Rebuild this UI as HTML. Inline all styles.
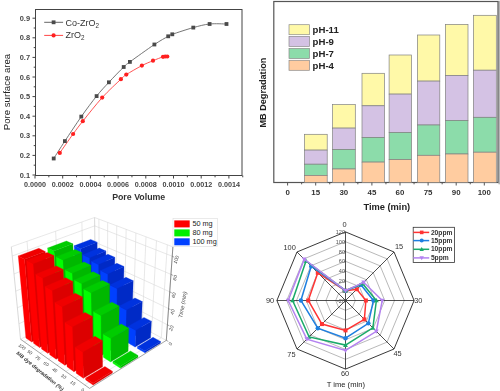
<!DOCTYPE html>
<html><head><meta charset="utf-8"><style>
html,body{margin:0;padding:0;background:#fff;width:500px;height:391px;overflow:hidden}
svg{display:block;filter:blur(0.3px);font-family:"Liberation Sans", sans-serif}
</style></head><body>
<svg width="500" height="391" viewBox="0 0 500 391" font-family='"Liberation Sans", sans-serif'>
<rect x="35.5" y="9.5" width="206.5" height="166" fill="none" stroke="#444" stroke-width="1"/>
<line x1="32.5" y1="175" x2="35.5" y2="175" stroke="#444" stroke-width="1"/>
<text x="30" y="177.6" font-size="7.4" font-weight="bold" fill="#444" text-anchor="end">0.1</text>
<line x1="33.7" y1="165.2" x2="35.5" y2="165.2" stroke="#444" stroke-width="1"/>
<line x1="32.5" y1="155.4" x2="35.5" y2="155.4" stroke="#444" stroke-width="1"/>
<text x="30" y="158" font-size="7.4" font-weight="bold" fill="#444" text-anchor="end">0.2</text>
<line x1="33.7" y1="145.6" x2="35.5" y2="145.6" stroke="#444" stroke-width="1"/>
<line x1="32.5" y1="135.8" x2="35.5" y2="135.8" stroke="#444" stroke-width="1"/>
<text x="30" y="138.4" font-size="7.4" font-weight="bold" fill="#444" text-anchor="end">0.3</text>
<line x1="33.7" y1="126" x2="35.5" y2="126" stroke="#444" stroke-width="1"/>
<line x1="32.5" y1="116.2" x2="35.5" y2="116.2" stroke="#444" stroke-width="1"/>
<text x="30" y="118.8" font-size="7.4" font-weight="bold" fill="#444" text-anchor="end">0.4</text>
<line x1="33.7" y1="106.4" x2="35.5" y2="106.4" stroke="#444" stroke-width="1"/>
<line x1="32.5" y1="96.6" x2="35.5" y2="96.6" stroke="#444" stroke-width="1"/>
<text x="30" y="99.2" font-size="7.4" font-weight="bold" fill="#444" text-anchor="end">0.5</text>
<line x1="33.7" y1="86.8" x2="35.5" y2="86.8" stroke="#444" stroke-width="1"/>
<line x1="32.5" y1="77" x2="35.5" y2="77" stroke="#444" stroke-width="1"/>
<text x="30" y="79.6" font-size="7.4" font-weight="bold" fill="#444" text-anchor="end">0.6</text>
<line x1="33.7" y1="67.2" x2="35.5" y2="67.2" stroke="#444" stroke-width="1"/>
<line x1="32.5" y1="57.4" x2="35.5" y2="57.4" stroke="#444" stroke-width="1"/>
<text x="30" y="60" font-size="7.4" font-weight="bold" fill="#444" text-anchor="end">0.7</text>
<line x1="33.7" y1="47.6" x2="35.5" y2="47.6" stroke="#444" stroke-width="1"/>
<line x1="32.5" y1="37.8" x2="35.5" y2="37.8" stroke="#444" stroke-width="1"/>
<text x="30" y="40.4" font-size="7.4" font-weight="bold" fill="#444" text-anchor="end">0.8</text>
<line x1="33.7" y1="28" x2="35.5" y2="28" stroke="#444" stroke-width="1"/>
<line x1="32.5" y1="18.2" x2="35.5" y2="18.2" stroke="#444" stroke-width="1"/>
<text x="30" y="20.8" font-size="7.4" font-weight="bold" fill="#444" text-anchor="end">0.9</text>
<line x1="35" y1="175.5" x2="35" y2="178.5" stroke="#444" stroke-width="1"/>
<text x="35" y="186.5" font-size="7.2" font-weight="bold" fill="#444" text-anchor="middle">0.0000</text>
<line x1="48.85" y1="175.5" x2="48.85" y2="177.3" stroke="#444" stroke-width="1"/>
<line x1="62.7" y1="175.5" x2="62.7" y2="178.5" stroke="#444" stroke-width="1"/>
<text x="62.7" y="186.5" font-size="7.2" font-weight="bold" fill="#444" text-anchor="middle">0.0002</text>
<line x1="76.55" y1="175.5" x2="76.55" y2="177.3" stroke="#444" stroke-width="1"/>
<line x1="90.4" y1="175.5" x2="90.4" y2="178.5" stroke="#444" stroke-width="1"/>
<text x="90.4" y="186.5" font-size="7.2" font-weight="bold" fill="#444" text-anchor="middle">0.0004</text>
<line x1="104.25" y1="175.5" x2="104.25" y2="177.3" stroke="#444" stroke-width="1"/>
<line x1="118.1" y1="175.5" x2="118.1" y2="178.5" stroke="#444" stroke-width="1"/>
<text x="118.1" y="186.5" font-size="7.2" font-weight="bold" fill="#444" text-anchor="middle">0.0006</text>
<line x1="131.95" y1="175.5" x2="131.95" y2="177.3" stroke="#444" stroke-width="1"/>
<line x1="145.8" y1="175.5" x2="145.8" y2="178.5" stroke="#444" stroke-width="1"/>
<text x="145.8" y="186.5" font-size="7.2" font-weight="bold" fill="#444" text-anchor="middle">0.0008</text>
<line x1="159.65" y1="175.5" x2="159.65" y2="177.3" stroke="#444" stroke-width="1"/>
<line x1="173.5" y1="175.5" x2="173.5" y2="178.5" stroke="#444" stroke-width="1"/>
<text x="173.5" y="186.5" font-size="7.2" font-weight="bold" fill="#444" text-anchor="middle">0.0010</text>
<line x1="187.35" y1="175.5" x2="187.35" y2="177.3" stroke="#444" stroke-width="1"/>
<line x1="201.2" y1="175.5" x2="201.2" y2="178.5" stroke="#444" stroke-width="1"/>
<text x="201.2" y="186.5" font-size="7.2" font-weight="bold" fill="#444" text-anchor="middle">0.0012</text>
<line x1="215.05" y1="175.5" x2="215.05" y2="177.3" stroke="#444" stroke-width="1"/>
<line x1="228.9" y1="175.5" x2="228.9" y2="178.5" stroke="#444" stroke-width="1"/>
<text x="228.9" y="186.5" font-size="7.2" font-weight="bold" fill="#444" text-anchor="middle">0.0014</text>
<line x1="242.75" y1="175.5" x2="242.75" y2="177.3" stroke="#444" stroke-width="1"/>
<text x="138.7" y="200.4" font-size="8.8" font-weight="bold" fill="#333" text-anchor="middle">Pore Volume</text>
<text transform="translate(9.6,92) rotate(-90)" x="0" y="0" font-size="9.6" fill="#222" text-anchor="middle">Pore surface area</text>
<path d="M53.7,158.5 C55.57,155.6 60.3,148.08 64.9,141.1 C69.5,134.12 76.02,124.1 81.3,116.6 C86.58,109.1 92,101.82 96.6,96.1 C101.2,90.38 104.38,87.15 108.9,82.3 C113.42,77.45 120.2,70.4 123.7,67 C127.2,63.6 124.78,65.65 129.9,61.9 C135.02,58.15 148.02,48.77 154.4,44.5 C160.78,40.23 165.22,38 168.2,36.3 C171.18,34.6 168.12,35.75 172.3,34.3 C176.48,32.85 187.08,29.32 193.3,27.6 C199.52,25.88 204.07,24.6 209.6,24 C215.13,23.4 223.68,24 226.5,24" fill="none" stroke="#666" stroke-width="0.9"/>
<path d="M59.8,152.9 C62.02,149.75 69.27,139.28 73.1,134 C76.93,128.72 77.95,127.27 82.8,121.2 C87.65,115.13 95.85,104.6 102.2,97.6 C108.55,90.6 116.88,83.03 120.9,79.2 C124.92,75.37 122.8,76.87 126.3,74.6 C129.8,72.33 137.45,67.92 141.9,65.6 C146.35,63.28 149.48,62.17 153,60.7 C156.52,59.23 160.97,57.5 163,56.8 C165.03,56.1 164.48,56.55 165.2,56.5 C165.92,56.45 166.95,56.5 167.3,56.5" fill="none" stroke="#ff4040" stroke-width="0.9"/>
<rect x="51.8" y="156.6" width="3.8" height="3.8" fill="#4a4a4a"/>
<rect x="63" y="139.2" width="3.8" height="3.8" fill="#4a4a4a"/>
<rect x="79.4" y="114.7" width="3.8" height="3.8" fill="#4a4a4a"/>
<rect x="94.7" y="94.2" width="3.8" height="3.8" fill="#4a4a4a"/>
<rect x="107" y="80.4" width="3.8" height="3.8" fill="#4a4a4a"/>
<rect x="121.8" y="65.1" width="3.8" height="3.8" fill="#4a4a4a"/>
<rect x="128" y="60" width="3.8" height="3.8" fill="#4a4a4a"/>
<rect x="152.5" y="42.6" width="3.8" height="3.8" fill="#4a4a4a"/>
<rect x="166.3" y="34.4" width="3.8" height="3.8" fill="#4a4a4a"/>
<rect x="170.4" y="32.4" width="3.8" height="3.8" fill="#4a4a4a"/>
<rect x="191.4" y="25.7" width="3.8" height="3.8" fill="#4a4a4a"/>
<rect x="207.7" y="22.1" width="3.8" height="3.8" fill="#4a4a4a"/>
<rect x="224.6" y="22.1" width="3.8" height="3.8" fill="#4a4a4a"/>
<circle cx="59.8" cy="152.9" r="2.1" fill="#ff2020"/>
<circle cx="73.1" cy="134" r="2.1" fill="#ff2020"/>
<circle cx="82.8" cy="121.2" r="2.1" fill="#ff2020"/>
<circle cx="102.2" cy="97.6" r="2.1" fill="#ff2020"/>
<circle cx="120.9" cy="79.2" r="2.1" fill="#ff2020"/>
<circle cx="126.3" cy="74.6" r="2.1" fill="#ff2020"/>
<circle cx="141.9" cy="65.6" r="2.1" fill="#ff2020"/>
<circle cx="153" cy="60.7" r="2.1" fill="#ff2020"/>
<circle cx="163" cy="56.8" r="2.1" fill="#ff2020"/>
<circle cx="165.2" cy="56.5" r="2.1" fill="#ff2020"/>
<circle cx="167.3" cy="56.5" r="2.1" fill="#ff2020"/>
<line x1="44.2" y1="22.3" x2="63.1" y2="22.3" stroke="#555" stroke-width="0.9"/>
<rect x="51.7" y="20.4" width="3.8" height="3.8" fill="#4a4a4a"/>
<text x="65.6" y="25.8" font-size="9" fill="#333">Co-ZrO<tspan font-size="6.3" dy="2">2</tspan></text>
<line x1="44.2" y1="35.4" x2="63.1" y2="35.4" stroke="#ff3030" stroke-width="0.9"/>
<circle cx="53.6" cy="35.4" r="2.1" fill="#ff2020"/>
<text x="65.6" y="37.8" font-size="9" fill="#333">ZrO<tspan font-size="6.3" dy="2">2</tspan></text>
<rect x="498.4" y="0.8" width="1.6" height="183.5" fill="#b4b4b4"/>
<rect x="273.8" y="1.5" width="224.2" height="181" fill="none" stroke="#555" stroke-width="1.2"/>
<rect x="304.5" y="134.3" width="22.7" height="15.8" fill="#fff9a8" stroke="#808080" stroke-width="0.7"/>
<rect x="304.5" y="150.1" width="22.7" height="14.1" fill="#d4c2e4" stroke="#808080" stroke-width="0.7"/>
<rect x="304.5" y="164.2" width="22.7" height="11.2" fill="#8cdcaa" stroke="#808080" stroke-width="0.7"/>
<rect x="304.5" y="175.4" width="22.7" height="7.1" fill="#ffcca0" stroke="#808080" stroke-width="0.7"/>
<rect x="332.6" y="104.6" width="22.7" height="23.5" fill="#fff9a8" stroke="#808080" stroke-width="0.7"/>
<rect x="332.6" y="128.1" width="22.7" height="21.3" fill="#d4c2e4" stroke="#808080" stroke-width="0.7"/>
<rect x="332.6" y="149.4" width="22.7" height="19.6" fill="#8cdcaa" stroke="#808080" stroke-width="0.7"/>
<rect x="332.6" y="169" width="22.7" height="13.5" fill="#ffcca0" stroke="#808080" stroke-width="0.7"/>
<rect x="362" y="73.3" width="22.5" height="32.5" fill="#fff9a8" stroke="#808080" stroke-width="0.7"/>
<rect x="362" y="105.8" width="22.5" height="31.6" fill="#d4c2e4" stroke="#808080" stroke-width="0.7"/>
<rect x="362" y="137.4" width="22.5" height="24.7" fill="#8cdcaa" stroke="#808080" stroke-width="0.7"/>
<rect x="362" y="162.1" width="22.5" height="20.4" fill="#ffcca0" stroke="#808080" stroke-width="0.7"/>
<rect x="389.1" y="55" width="22.5" height="39.1" fill="#fff9a8" stroke="#808080" stroke-width="0.7"/>
<rect x="389.1" y="94.1" width="22.5" height="38.4" fill="#d4c2e4" stroke="#808080" stroke-width="0.7"/>
<rect x="389.1" y="132.5" width="22.5" height="27.1" fill="#8cdcaa" stroke="#808080" stroke-width="0.7"/>
<rect x="389.1" y="159.6" width="22.5" height="22.9" fill="#ffcca0" stroke="#808080" stroke-width="0.7"/>
<rect x="417.4" y="35" width="22.4" height="46.1" fill="#fff9a8" stroke="#808080" stroke-width="0.7"/>
<rect x="417.4" y="81.1" width="22.4" height="43.9" fill="#d4c2e4" stroke="#808080" stroke-width="0.7"/>
<rect x="417.4" y="125" width="22.4" height="30.3" fill="#8cdcaa" stroke="#808080" stroke-width="0.7"/>
<rect x="417.4" y="155.3" width="22.4" height="27.2" fill="#ffcca0" stroke="#808080" stroke-width="0.7"/>
<rect x="445.4" y="24.4" width="22.6" height="51.1" fill="#fff9a8" stroke="#808080" stroke-width="0.7"/>
<rect x="445.4" y="75.5" width="22.6" height="45" fill="#d4c2e4" stroke="#808080" stroke-width="0.7"/>
<rect x="445.4" y="120.5" width="22.6" height="33.5" fill="#8cdcaa" stroke="#808080" stroke-width="0.7"/>
<rect x="445.4" y="154" width="22.6" height="28.5" fill="#ffcca0" stroke="#808080" stroke-width="0.7"/>
<rect x="473.4" y="15.3" width="22.9" height="54.9" fill="#fff9a8" stroke="#808080" stroke-width="0.7"/>
<rect x="473.4" y="70.2" width="22.9" height="47.1" fill="#d4c2e4" stroke="#808080" stroke-width="0.7"/>
<rect x="473.4" y="117.3" width="22.9" height="34.9" fill="#8cdcaa" stroke="#808080" stroke-width="0.7"/>
<rect x="473.4" y="152.2" width="22.9" height="30.3" fill="#ffcca0" stroke="#808080" stroke-width="0.7"/>
<line x1="287.6" y1="182.5" x2="287.6" y2="185.5" stroke="#555" stroke-width="1"/>
<text x="287.6" y="194.8" font-size="7.9" font-weight="bold" fill="#333" text-anchor="middle">0</text>
<line x1="301.65" y1="182.5" x2="301.65" y2="184.3" stroke="#555" stroke-width="1"/>
<line x1="315.7" y1="182.5" x2="315.7" y2="185.5" stroke="#555" stroke-width="1"/>
<text x="315.7" y="194.8" font-size="7.9" font-weight="bold" fill="#333" text-anchor="middle">15</text>
<line x1="329.75" y1="182.5" x2="329.75" y2="184.3" stroke="#555" stroke-width="1"/>
<line x1="343.8" y1="182.5" x2="343.8" y2="185.5" stroke="#555" stroke-width="1"/>
<text x="343.8" y="194.8" font-size="7.9" font-weight="bold" fill="#333" text-anchor="middle">30</text>
<line x1="357.85" y1="182.5" x2="357.85" y2="184.3" stroke="#555" stroke-width="1"/>
<line x1="371.9" y1="182.5" x2="371.9" y2="185.5" stroke="#555" stroke-width="1"/>
<text x="371.9" y="194.8" font-size="7.9" font-weight="bold" fill="#333" text-anchor="middle">45</text>
<line x1="385.95" y1="182.5" x2="385.95" y2="184.3" stroke="#555" stroke-width="1"/>
<line x1="400" y1="182.5" x2="400" y2="185.5" stroke="#555" stroke-width="1"/>
<text x="400" y="194.8" font-size="7.9" font-weight="bold" fill="#333" text-anchor="middle">60</text>
<line x1="414.05" y1="182.5" x2="414.05" y2="184.3" stroke="#555" stroke-width="1"/>
<line x1="428.1" y1="182.5" x2="428.1" y2="185.5" stroke="#555" stroke-width="1"/>
<text x="428.1" y="194.8" font-size="7.9" font-weight="bold" fill="#333" text-anchor="middle">75</text>
<line x1="442.15" y1="182.5" x2="442.15" y2="184.3" stroke="#555" stroke-width="1"/>
<line x1="456.2" y1="182.5" x2="456.2" y2="185.5" stroke="#555" stroke-width="1"/>
<text x="456.2" y="194.8" font-size="7.9" font-weight="bold" fill="#333" text-anchor="middle">90</text>
<line x1="470.25" y1="182.5" x2="470.25" y2="184.3" stroke="#555" stroke-width="1"/>
<line x1="484.3" y1="182.5" x2="484.3" y2="185.5" stroke="#555" stroke-width="1"/>
<text x="484.3" y="194.8" font-size="7.9" font-weight="bold" fill="#333" text-anchor="middle">100</text>
<text transform="translate(265.8,92.6) rotate(-90)" font-size="9.1" font-weight="bold" fill="#222" text-anchor="middle">MB Degradation</text>
<text x="386.8" y="209.6" font-size="9.3" font-weight="bold" fill="#222" text-anchor="middle">Time (min)</text>
<rect x="289" y="24.7" width="20.5" height="10" fill="#fff9a8" stroke="#8a8a8a" stroke-width="0.7"/>
<text x="312.6" y="33.3" font-size="9.6" font-weight="bold" fill="#222">pH-11</text>
<rect x="289" y="36.4" width="20.5" height="10" fill="#d4c2e4" stroke="#8a8a8a" stroke-width="0.7"/>
<text x="312.6" y="45" font-size="9.6" font-weight="bold" fill="#222">pH-9</text>
<rect x="289" y="48.5" width="20.5" height="10" fill="#8cdcaa" stroke="#8a8a8a" stroke-width="0.7"/>
<text x="312.6" y="57.1" font-size="9.6" font-weight="bold" fill="#222">pH-7</text>
<rect x="289" y="60.3" width="20.5" height="10" fill="#ffcca0" stroke="#8a8a8a" stroke-width="0.7"/>
<text x="312.6" y="68.9" font-size="9.6" font-weight="bold" fill="#222">pH-4</text>
<polygon points="345.5,290.7 352.43,293.57 355.3,300.5 352.43,307.43 345.5,310.3 338.57,307.43 335.7,300.5 338.57,293.57" fill="none" stroke="#8a8a8a" stroke-width="0.6"/>
<polygon points="345.5,280.9 359.36,286.64 365.1,300.5 359.36,314.36 345.5,320.1 331.64,314.36 325.9,300.5 331.64,286.64" fill="none" stroke="#8a8a8a" stroke-width="0.6"/>
<polygon points="345.5,271.1 366.29,279.71 374.9,300.5 366.29,321.29 345.5,329.9 324.71,321.29 316.1,300.5 324.71,279.71" fill="none" stroke="#8a8a8a" stroke-width="0.6"/>
<polygon points="345.5,261.3 373.22,272.78 384.7,300.5 373.22,328.22 345.5,339.7 317.78,328.22 306.3,300.5 317.78,272.78" fill="none" stroke="#8a8a8a" stroke-width="0.6"/>
<polygon points="345.5,251.5 380.15,265.85 394.5,300.5 380.15,335.15 345.5,349.5 310.85,335.15 296.5,300.5 310.85,265.85" fill="none" stroke="#8a8a8a" stroke-width="0.6"/>
<polygon points="345.5,241.7 387.08,258.92 404.3,300.5 387.08,342.08 345.5,359.3 303.92,342.08 286.7,300.5 303.92,258.92" fill="none" stroke="#8a8a8a" stroke-width="0.6"/>
<polygon points="345.5,231.9 394.01,251.99 414.1,300.5 394.01,349.01 345.5,369.1 296.99,349.01 276.9,300.5 296.99,251.99" fill="none" stroke="#222" stroke-width="0.9"/>
<line x1="345.5" y1="300.5" x2="345.5" y2="231.9" stroke="#222" stroke-width="0.8"/>
<line x1="345.5" y1="300.5" x2="394.01" y2="251.99" stroke="#222" stroke-width="0.8"/>
<line x1="345.5" y1="300.5" x2="414.1" y2="300.5" stroke="#222" stroke-width="0.8"/>
<line x1="345.5" y1="300.5" x2="394.01" y2="349.01" stroke="#222" stroke-width="0.8"/>
<line x1="345.5" y1="300.5" x2="345.5" y2="369.1" stroke="#222" stroke-width="0.8"/>
<line x1="345.5" y1="300.5" x2="296.99" y2="349.01" stroke="#222" stroke-width="0.8"/>
<line x1="345.5" y1="300.5" x2="276.9" y2="300.5" stroke="#222" stroke-width="0.8"/>
<line x1="345.5" y1="300.5" x2="296.99" y2="251.99" stroke="#222" stroke-width="0.8"/>
<text x="345" y="302.5" font-size="5.6" fill="#555" text-anchor="end">-20</text>
<line x1="344" y1="300.5" x2="345.5" y2="300.5" stroke="#555" stroke-width="0.6"/>
<text x="345" y="292.7" font-size="5.6" fill="#555" text-anchor="end">0</text>
<line x1="344" y1="290.7" x2="345.5" y2="290.7" stroke="#555" stroke-width="0.6"/>
<text x="345" y="282.9" font-size="5.6" fill="#555" text-anchor="end">20</text>
<line x1="344" y1="280.9" x2="345.5" y2="280.9" stroke="#555" stroke-width="0.6"/>
<text x="345" y="273.1" font-size="5.6" fill="#555" text-anchor="end">40</text>
<line x1="344" y1="271.1" x2="345.5" y2="271.1" stroke="#555" stroke-width="0.6"/>
<text x="345" y="263.3" font-size="5.6" fill="#555" text-anchor="end">60</text>
<line x1="344" y1="261.3" x2="345.5" y2="261.3" stroke="#555" stroke-width="0.6"/>
<text x="345" y="253.5" font-size="5.6" fill="#555" text-anchor="end">80</text>
<line x1="344" y1="251.5" x2="345.5" y2="251.5" stroke="#555" stroke-width="0.6"/>
<text x="345" y="243.7" font-size="5.6" fill="#555" text-anchor="end">100</text>
<line x1="344" y1="241.7" x2="345.5" y2="241.7" stroke="#555" stroke-width="0.6"/>
<text x="345" y="233.9" font-size="5.6" fill="#555" text-anchor="end">120</text>
<line x1="344" y1="231.9" x2="345.5" y2="231.9" stroke="#555" stroke-width="0.6"/>
<text x="344.6" y="227.1" font-size="7.4" fill="#333" text-anchor="middle">0</text>
<text x="399" y="249.4" font-size="7.4" fill="#333" text-anchor="middle">15</text>
<text x="418.3" y="303.1" font-size="7.4" fill="#333" text-anchor="middle">30</text>
<text x="397.6" y="356.4" font-size="7.4" fill="#333" text-anchor="middle">45</text>
<text x="345" y="375.8" font-size="7.4" fill="#333" text-anchor="middle">60</text>
<text x="291.4" y="356.6" font-size="7.4" fill="#333" text-anchor="middle">75</text>
<text x="270" y="302.9" font-size="7.4" fill="#333" text-anchor="middle">90</text>
<text x="289.6" y="250.1" font-size="7.4" fill="#333" text-anchor="middle">100</text>
<text x="345.8" y="387.3" font-size="7.6" fill="#222" text-anchor="middle">T ime (min)</text>
<polygon points="345.5,290.7 356.8,289.2 365.88,300.5 364.38,319.38 345.5,330.39 321.94,324.06 308.26,300.5 317.78,272.78" fill="none" stroke="#ff3333" stroke-width="1.5"/>
<rect x="343.5" y="288.7" width="4" height="4" fill="#ff3333"/>
<rect x="354.8" y="287.2" width="4" height="4" fill="#ff3333"/>
<rect x="363.88" y="298.5" width="4" height="4" fill="#ff3333"/>
<rect x="362.38" y="317.38" width="4" height="4" fill="#ff3333"/>
<rect x="343.5" y="328.39" width="4" height="4" fill="#ff3333"/>
<rect x="319.94" y="322.06" width="4" height="4" fill="#ff3333"/>
<rect x="306.26" y="298.5" width="4" height="4" fill="#ff3333"/>
<rect x="315.78" y="270.78" width="4" height="4" fill="#ff3333"/>
<polygon points="345.5,290.7 361.09,284.91 373.43,300.5 368.37,323.37 345.5,338.23 317.78,328.22 300.91,300.5 311.2,266.2" fill="none" stroke="#1e7fe0" stroke-width="1.5"/>
<circle cx="345.5" cy="290.7" r="2.2" fill="#1e7fe0"/>
<circle cx="361.09" cy="284.91" r="2.2" fill="#1e7fe0"/>
<circle cx="373.43" cy="300.5" r="2.2" fill="#1e7fe0"/>
<circle cx="368.37" cy="323.37" r="2.2" fill="#1e7fe0"/>
<circle cx="345.5" cy="338.23" r="2.2" fill="#1e7fe0"/>
<circle cx="317.78" cy="328.22" r="2.2" fill="#1e7fe0"/>
<circle cx="300.91" cy="300.5" r="2.2" fill="#1e7fe0"/>
<circle cx="311.2" cy="266.2" r="2.2" fill="#1e7fe0"/>
<polygon points="345.5,290.7 362.48,283.52 376.37,300.5 372.87,327.87 345.5,345.09 309.12,336.88 292.58,300.5 306,261" fill="none" stroke="#1aaa6a" stroke-width="1.5"/>
<polygon points="345.5,288.2 347.9,292.5 343.1,292.5" fill="#1aaa6a"/>
<polygon points="362.48,281.02 364.88,285.32 360.08,285.32" fill="#1aaa6a"/>
<polygon points="376.37,298 378.77,302.3 373.97,302.3" fill="#1aaa6a"/>
<polygon points="372.87,325.37 375.27,329.67 370.47,329.67" fill="#1aaa6a"/>
<polygon points="345.5,342.59 347.9,346.89 343.1,346.89" fill="#1aaa6a"/>
<polygon points="309.12,334.38 311.52,338.68 306.72,338.68" fill="#1aaa6a"/>
<polygon points="292.58,298 294.98,302.3 290.18,302.3" fill="#1aaa6a"/>
<polygon points="306,258.5 308.4,262.8 303.6,262.8" fill="#1aaa6a"/>
<polygon points="345.5,290.7 363.69,282.31 382.25,300.5 376.34,331.34 345.5,350.48 306.83,339.17 288.17,300.5 304.27,259.27" fill="none" stroke="#b482f0" stroke-width="1.5"/>
<polygon points="345.5,293.2 347.9,288.9 343.1,288.9" fill="#b482f0"/>
<polygon points="363.69,284.81 366.09,280.51 361.29,280.51" fill="#b482f0"/>
<polygon points="382.25,303 384.65,298.7 379.85,298.7" fill="#b482f0"/>
<polygon points="376.34,333.84 378.74,329.54 373.94,329.54" fill="#b482f0"/>
<polygon points="345.5,352.98 347.9,348.68 343.1,348.68" fill="#b482f0"/>
<polygon points="306.83,341.67 309.23,337.37 304.43,337.37" fill="#b482f0"/>
<polygon points="288.17,303 290.57,298.7 285.77,298.7" fill="#b482f0"/>
<polygon points="304.27,261.77 306.67,257.47 301.87,257.47" fill="#b482f0"/>
<rect x="413.2" y="227.3" width="41.3" height="35.2" fill="#fff" stroke="#333" stroke-width="0.8"/>
<line x1="413.3" y1="232.4" x2="429.2" y2="232.4" stroke="#ff3333" stroke-width="1.5"/>
<rect x="419.9" y="230.6" width="3.6" height="3.6" fill="#ff3333"/>
<text x="430.9" y="234.5" font-size="6.7" font-weight="bold" fill="#333">20ppm</text>
<line x1="413.3" y1="240.6" x2="429.2" y2="240.6" stroke="#1e7fe0" stroke-width="1.5"/>
<circle cx="421.7" cy="240.6" r="2" fill="#1e7fe0"/>
<text x="430.9" y="242.7" font-size="6.7" font-weight="bold" fill="#333">15ppm</text>
<line x1="413.3" y1="249.3" x2="429.2" y2="249.3" stroke="#1aaa6a" stroke-width="1.5"/>
<polygon points="421.7,247 423.9,250.9 419.5,250.9" fill="#1aaa6a"/>
<text x="430.9" y="251.4" font-size="6.7" font-weight="bold" fill="#333">10ppm</text>
<line x1="413.3" y1="257.9" x2="429.2" y2="257.9" stroke="#b482f0" stroke-width="1.5"/>
<polygon points="421.7,260.2 423.9,256.3 419.5,256.3" fill="#b482f0"/>
<text x="430.9" y="260" font-size="6.7" font-weight="bold" fill="#333">5ppm</text>
<polyline points="20.5,339.2 95.57,302.34 166.3,340.4" fill="none" stroke="#d8d8d8" stroke-width="0.6"/>
<polyline points="18.96,323.76 95.41,288.02 167.4,324.79" fill="none" stroke="#d8d8d8" stroke-width="0.6"/>
<polyline points="17.37,307.76 95.24,273.24 168.55,308.61" fill="none" stroke="#d8d8d8" stroke-width="0.6"/>
<polyline points="15.72,291.15 95.06,257.97 169.73,291.81" fill="none" stroke="#d8d8d8" stroke-width="0.6"/>
<polyline points="14,273.92 94.88,242.19 170.96,274.37" fill="none" stroke="#d8d8d8" stroke-width="0.6"/>
<polyline points="12.22,256.01 94.69,225.87 172.24,256.24" fill="none" stroke="#d8d8d8" stroke-width="0.6"/>
<polyline points="11.3,246.8 94.6,217.5 172.9,246.9" fill="none" stroke="#d8d8d8" stroke-width="0.6"/>
<line x1="34.54" y1="332.31" x2="27.03" y2="241.27" stroke="#d8d8d8" stroke-width="0.6"/>
<line x1="60.21" y1="319.7" x2="55.6" y2="231.22" stroke="#d8d8d8" stroke-width="0.6"/>
<line x1="83.99" y1="308.02" x2="81.87" y2="221.97" stroke="#d8d8d8" stroke-width="0.6"/>
<line x1="161.32" y1="337.72" x2="167.32" y2="244.81" stroke="#d8d8d8" stroke-width="0.6"/>
<line x1="151.61" y1="332.49" x2="156.47" y2="240.73" stroke="#d8d8d8" stroke-width="0.6"/>
<line x1="142.21" y1="327.43" x2="146" y2="236.8" stroke="#d8d8d8" stroke-width="0.6"/>
<line x1="133.12" y1="322.54" x2="135.91" y2="233.01" stroke="#d8d8d8" stroke-width="0.6"/>
<line x1="124.31" y1="317.8" x2="126.17" y2="229.36" stroke="#d8d8d8" stroke-width="0.6"/>
<line x1="115.78" y1="313.21" x2="116.76" y2="225.82" stroke="#d8d8d8" stroke-width="0.6"/>
<line x1="107.51" y1="308.76" x2="107.67" y2="222.41" stroke="#d8d8d8" stroke-width="0.6"/>
<line x1="99.49" y1="304.45" x2="98.88" y2="219.11" stroke="#d8d8d8" stroke-width="0.6"/>
<line x1="84.65" y1="384.88" x2="161.32" y2="337.72" stroke="#d8d8d8" stroke-width="0.6"/>
<line x1="75.05" y1="378.04" x2="151.61" y2="332.49" stroke="#d8d8d8" stroke-width="0.6"/>
<line x1="65.8" y1="371.46" x2="142.21" y2="327.43" stroke="#d8d8d8" stroke-width="0.6"/>
<line x1="56.89" y1="365.11" x2="133.12" y2="322.54" stroke="#d8d8d8" stroke-width="0.6"/>
<line x1="48.3" y1="359" x2="124.31" y2="317.8" stroke="#d8d8d8" stroke-width="0.6"/>
<line x1="40.01" y1="353.09" x2="115.78" y2="313.21" stroke="#d8d8d8" stroke-width="0.6"/>
<line x1="32" y1="347.39" x2="107.51" y2="308.76" stroke="#d8d8d8" stroke-width="0.6"/>
<line x1="24.27" y1="341.89" x2="99.49" y2="304.45" stroke="#d8d8d8" stroke-width="0.6"/>
<line x1="104.14" y1="379.3" x2="34.54" y2="332.31" stroke="#d8d8d8" stroke-width="0.6"/>
<line x1="130.49" y1="362.81" x2="60.21" y2="319.7" stroke="#d8d8d8" stroke-width="0.6"/>
<line x1="154.64" y1="347.7" x2="83.99" y2="308.02" stroke="#d8d8d8" stroke-width="0.6"/>
<line x1="20.5" y1="339.2" x2="11.3" y2="246.8" stroke="#c8c8c8" stroke-width="0.7"/>
<line x1="95.57" y1="302.34" x2="94.6" y2="217.5" stroke="#c8c8c8" stroke-width="0.7"/>
<line x1="166.3" y1="340.4" x2="172.9" y2="246.9" stroke="#c8c8c8" stroke-width="0.7"/>
<polygon points="82.4,316.53 97.77,308.79 97.16,242.16 80.59,248.68" fill="#002ac6" stroke="#002ac6" stroke-width="0.3"/>
<polygon points="82.4,316.53 76.43,313.06 74.19,245.81 80.59,248.68" fill="#0040ff" stroke="#0040ff" stroke-width="0.3"/>
<polygon points="80.59,248.68 74.19,245.81 90.72,239.45 97.16,242.16" fill="#0032de" stroke="#0032de" stroke-width="0.3"/>
<polygon points="58.23,328.7 75.53,319.99 72.89,243.87 53.97,251.09" fill="#00b800" stroke="#00b800" stroke-width="0.3"/>
<polygon points="58.23,328.7 52.33,324.95 47.61,248.05 53.97,251.09" fill="#00ff00" stroke="#00ff00" stroke-width="0.3"/>
<polygon points="53.97,251.09 47.61,248.05 66.46,241.01 72.89,243.87" fill="#00cc00" stroke="#00cc00" stroke-width="0.3"/>
<polygon points="31.7,342.06 50.41,332.63 45.2,251.41 24.51,259.2" fill="#dc0000" stroke="#dc0000" stroke-width="0.3"/>
<polygon points="31.7,342.06 25.89,337.99 18.25,255.9 24.51,259.2" fill="#ff0000" stroke="#ff0000" stroke-width="0.3"/>
<polygon points="24.51,259.2 18.25,255.9 38.85,248.31 45.2,251.41" fill="#f00000" stroke="#f00000" stroke-width="0.3"/>
<polygon points="90.48,321.21 105.88,313.24 105.88,250.96 89.36,257.8" fill="#002ac6" stroke="#002ac6" stroke-width="0.3"/>
<polygon points="90.48,321.21 84.32,317.64 82.78,254.78 89.36,257.8" fill="#0040ff" stroke="#0040ff" stroke-width="0.3"/>
<polygon points="89.36,257.8 82.78,254.78 99.26,248.11 105.88,250.96" fill="#0032de" stroke="#0032de" stroke-width="0.3"/>
<polygon points="66.23,333.77 83.58,324.78 81.73,252.45 62.84,260.02" fill="#00b800" stroke="#00b800" stroke-width="0.3"/>
<polygon points="66.23,333.77 60.13,329.9 56.27,256.82 62.84,260.02" fill="#00ff00" stroke="#00ff00" stroke-width="0.3"/>
<polygon points="62.84,260.02 56.27,256.82 75.11,249.45 81.73,252.45" fill="#00cc00" stroke="#00cc00" stroke-width="0.3"/>
<polygon points="39.57,347.57 58.38,337.83 53.83,255.61 33.02,263.69" fill="#dc0000" stroke="#dc0000" stroke-width="0.3"/>
<polygon points="39.57,347.57 33.56,343.36 26.52,260.26 33.02,263.69" fill="#ff0000" stroke="#ff0000" stroke-width="0.3"/>
<polygon points="33.02,263.69 26.52,260.26 47.24,252.4 53.83,255.61" fill="#f00000" stroke="#f00000" stroke-width="0.3"/>
<polygon points="98.82,326.05 114.25,317.83 114.83,257.31 98.32,264.42" fill="#002ac6" stroke="#002ac6" stroke-width="0.3"/>
<polygon points="98.82,326.05 92.46,322.36 91.52,261.28 98.32,264.42" fill="#0040ff" stroke="#0040ff" stroke-width="0.3"/>
<polygon points="98.32,264.42 91.52,261.28 108,254.34 114.83,257.31" fill="#0032de" stroke="#0032de" stroke-width="0.3"/>
<polygon points="74.49,339.01 91.9,329.74 90.86,265.25 72.09,273.28" fill="#00b800" stroke="#00b800" stroke-width="0.3"/>
<polygon points="74.49,339.01 68.18,335.01 65.34,269.87 72.09,273.28" fill="#00ff00" stroke="#00ff00" stroke-width="0.3"/>
<polygon points="72.09,273.28 65.34,269.87 84.06,262.05 90.86,265.25" fill="#00cc00" stroke="#00cc00" stroke-width="0.3"/>
<polygon points="47.71,353.28 66.61,343.21 63.21,269.42 42.52,278.01" fill="#dc0000" stroke="#dc0000" stroke-width="0.3"/>
<polygon points="47.71,353.28 41.5,348.92 35.83,274.35 42.52,278.01" fill="#ff0000" stroke="#ff0000" stroke-width="0.3"/>
<polygon points="42.52,278.01 35.83,274.35 56.44,265.99 63.21,269.42" fill="#f00000" stroke="#f00000" stroke-width="0.3"/>
<polygon points="107.43,331.05 122.89,322.57 123.98,266.42 107.54,273.88" fill="#002ac6" stroke="#002ac6" stroke-width="0.3"/>
<polygon points="107.43,331.05 100.86,327.24 100.53,270.57 107.54,273.88" fill="#0040ff" stroke="#0040ff" stroke-width="0.3"/>
<polygon points="107.54,273.88 100.53,270.57 116.96,263.3 123.98,266.42" fill="#0032de" stroke="#0032de" stroke-width="0.3"/>
<polygon points="83.04,344.44 100.5,334.85 100.13,275.15 81.41,283.57" fill="#00b800" stroke="#00b800" stroke-width="0.3"/>
<polygon points="83.04,344.44 76.52,340.3 74.45,279.98 81.41,283.57" fill="#00ff00" stroke="#00ff00" stroke-width="0.3"/>
<polygon points="81.41,283.57 74.45,279.98 93.13,271.77 100.13,275.15" fill="#00cc00" stroke="#00cc00" stroke-width="0.3"/>
<polygon points="56.15,359.19 75.13,348.78 72.68,281.38 52.07,290.46" fill="#dc0000" stroke="#dc0000" stroke-width="0.3"/>
<polygon points="56.15,359.19 49.71,354.68 45.17,286.58 52.07,290.46" fill="#ff0000" stroke="#ff0000" stroke-width="0.3"/>
<polygon points="52.07,290.46 45.17,286.58 65.71,277.75 72.68,281.38" fill="#f00000" stroke="#f00000" stroke-width="0.3"/>
<polygon points="116.33,336.21 131.81,327.46 133.21,280.69 116.91,288.61" fill="#002ac6" stroke="#002ac6" stroke-width="0.3"/>
<polygon points="116.33,336.21 109.54,332.27 109.74,285.08 116.91,288.61" fill="#0040ff" stroke="#0040ff" stroke-width="0.3"/>
<polygon points="116.91,288.61 109.74,285.08 126.02,277.37 133.21,280.69" fill="#0032de" stroke="#0032de" stroke-width="0.3"/>
<polygon points="91.88,350.05 109.39,340.14 109.62,283.94 90.94,292.76" fill="#00b800" stroke="#00b800" stroke-width="0.3"/>
<polygon points="91.88,350.05 85.13,345.76 83.75,288.99 90.94,292.76" fill="#00ff00" stroke="#00ff00" stroke-width="0.3"/>
<polygon points="90.94,292.76 83.75,288.99 102.4,280.4 109.62,283.94" fill="#00cc00" stroke="#00cc00" stroke-width="0.3"/>
<polygon points="64.89,365.32 83.95,354.54 82.45,297.06 62,306.72" fill="#dc0000" stroke="#dc0000" stroke-width="0.3"/>
<polygon points="64.89,365.32 58.22,360.64 54.91,302.57 62,306.72" fill="#ff0000" stroke="#ff0000" stroke-width="0.3"/>
<polygon points="62,306.72 54.91,302.57 75.29,293.18 82.45,297.06" fill="#f00000" stroke="#f00000" stroke-width="0.3"/>
<polygon points="125.54,341.56 141.03,332.51 142.29,301.6 126.26,310.1" fill="#002ac6" stroke="#002ac6" stroke-width="0.3"/>
<polygon points="125.54,341.56 118.52,337.48 118.98,306.29 126.26,310.1" fill="#0040ff" stroke="#0040ff" stroke-width="0.3"/>
<polygon points="126.26,310.1 118.98,306.29 134.99,298.01 142.29,301.6" fill="#0032de" stroke="#0032de" stroke-width="0.3"/>
<polygon points="101.04,355.86 118.59,345.62 119.18,305.99 100.81,315.49" fill="#00b800" stroke="#00b800" stroke-width="0.3"/>
<polygon points="101.04,355.86 94.05,351.42 93.49,311.41 100.81,315.49" fill="#00ff00" stroke="#00ff00" stroke-width="0.3"/>
<polygon points="100.81,315.49 93.49,311.41 111.83,302.16 119.18,305.99" fill="#00cc00" stroke="#00cc00" stroke-width="0.3"/>
<polygon points="73.96,371.67 93.08,360.51 92.41,316.54 72.23,326.87" fill="#dc0000" stroke="#dc0000" stroke-width="0.3"/>
<polygon points="73.96,371.67 67.04,366.82 64.96,322.42 72.23,326.87" fill="#ff0000" stroke="#ff0000" stroke-width="0.3"/>
<polygon points="72.23,326.87 64.96,322.42 85.09,312.38 92.41,316.54" fill="#f00000" stroke="#f00000" stroke-width="0.3"/>
<polygon points="135.07,347.08 150.56,337.74 151.42,321.25 135.64,330.32" fill="#002ac6" stroke="#002ac6" stroke-width="0.3"/>
<polygon points="135.07,347.08 127.8,342.86 128.22,326.24 135.64,330.32" fill="#0040ff" stroke="#0040ff" stroke-width="0.3"/>
<polygon points="135.64,330.32 128.22,326.24 144,317.4 151.42,321.25" fill="#0032de" stroke="#0032de" stroke-width="0.3"/>
<polygon points="110.53,361.88 128.11,351.28 128.71,328.19 110.67,338.37" fill="#00b800" stroke="#00b800" stroke-width="0.3"/>
<polygon points="110.53,361.88 103.29,357.29 103.22,333.97 110.67,338.37" fill="#00ff00" stroke="#00ff00" stroke-width="0.3"/>
<polygon points="110.67,338.37 103.22,333.97 121.25,324.06 128.71,328.19" fill="#00cc00" stroke="#00cc00" stroke-width="0.3"/>
<polygon points="83.37,378.27 102.56,366.7 102.45,340.85 82.65,351.95" fill="#dc0000" stroke="#dc0000" stroke-width="0.3"/>
<polygon points="83.37,378.27 76.19,373.23 75.25,347.14 82.65,351.95" fill="#ff0000" stroke="#ff0000" stroke-width="0.3"/>
<polygon points="82.65,351.95 75.25,347.14 95,336.35 102.45,340.85" fill="#f00000" stroke="#f00000" stroke-width="0.3"/>
<polygon points="144.93,352.8 160.41,343.14 160.52,341.44 145.01,351.08" fill="#002ac6" stroke="#002ac6" stroke-width="0.3"/>
<polygon points="144.93,352.8 137.4,348.44 137.47,346.73 145.01,351.08" fill="#0040ff" stroke="#0040ff" stroke-width="0.3"/>
<polygon points="145.01,351.08 137.47,346.73 152.99,337.33 160.52,341.44" fill="#0032de" stroke="#0032de" stroke-width="0.3"/>
<polygon points="120.37,368.13 137.97,357.15 138.03,355.41 120.41,366.36" fill="#00b800" stroke="#00b800" stroke-width="0.3"/>
<polygon points="120.37,368.13 112.86,363.36 112.88,361.61 120.41,366.36" fill="#00ff00" stroke="#00ff00" stroke-width="0.3"/>
<polygon points="120.41,366.36 112.88,361.61 130.49,350.95 138.03,355.41" fill="#00cc00" stroke="#00cc00" stroke-width="0.3"/>
<polygon points="93.15,385.12 112.38,373.11 112.4,371.33 93.12,383.31" fill="#dc0000" stroke="#dc0000" stroke-width="0.3"/>
<polygon points="93.15,385.12 85.68,379.89 85.64,378.09 93.12,383.31" fill="#ff0000" stroke="#ff0000" stroke-width="0.3"/>
<polygon points="93.12,383.31 85.64,378.09 104.88,366.45 112.4,371.33" fill="#f00000" stroke="#f00000" stroke-width="0.3"/>
<line x1="89.6" y1="388.4" x2="20.5" y2="339.2" stroke="#666" stroke-width="0.6"/>
<line x1="89.6" y1="388.4" x2="166.3" y2="340.4" stroke="#666" stroke-width="0.6"/>
<line x1="166.3" y1="340.4" x2="172.9" y2="246.9" stroke="#555" stroke-width="0.6"/>
<line x1="166.3" y1="340.4" x2="168.3" y2="341.4" stroke="#555" stroke-width="0.5"/>
<text transform="translate(171.8,344.4) rotate(-72)" font-size="4.8" font-style="italic" fill="#444" text-anchor="middle">0</text>
<line x1="167.4" y1="324.79" x2="169.4" y2="325.79" stroke="#555" stroke-width="0.5"/>
<text transform="translate(172.9,328.79) rotate(-72)" font-size="4.8" font-style="italic" fill="#444" text-anchor="middle">20</text>
<line x1="168.55" y1="308.61" x2="170.55" y2="309.61" stroke="#555" stroke-width="0.5"/>
<text transform="translate(174.05,312.61) rotate(-72)" font-size="4.8" font-style="italic" fill="#444" text-anchor="middle">40</text>
<line x1="169.73" y1="291.81" x2="171.73" y2="292.81" stroke="#555" stroke-width="0.5"/>
<text transform="translate(175.23,295.81) rotate(-72)" font-size="4.8" font-style="italic" fill="#444" text-anchor="middle">60</text>
<line x1="170.96" y1="274.37" x2="172.96" y2="275.37" stroke="#555" stroke-width="0.5"/>
<text transform="translate(176.46,278.37) rotate(-72)" font-size="4.8" font-style="italic" fill="#444" text-anchor="middle">80</text>
<line x1="172.24" y1="256.24" x2="174.24" y2="257.24" stroke="#555" stroke-width="0.5"/>
<text transform="translate(177.74,260.24) rotate(-72)" font-size="4.8" font-style="italic" fill="#444" text-anchor="middle">100</text>
<text transform="translate(184.6,305) rotate(-80)" font-size="5.6" font-style="italic" fill="#444" text-anchor="middle">Time (min)</text>
<text transform="translate(81.55,391.16) rotate(35)" font-size="4.6" font-style="italic" fill="#444" text-anchor="middle">0</text>
<text transform="translate(71.93,384.31) rotate(35)" font-size="4.6" font-style="italic" fill="#444" text-anchor="middle">15</text>
<text transform="translate(62.67,377.72) rotate(35)" font-size="4.6" font-style="italic" fill="#444" text-anchor="middle">30</text>
<text transform="translate(53.74,371.36) rotate(35)" font-size="4.6" font-style="italic" fill="#444" text-anchor="middle">45</text>
<text transform="translate(45.14,365.24) rotate(35)" font-size="4.6" font-style="italic" fill="#444" text-anchor="middle">60</text>
<text transform="translate(36.83,359.32) rotate(35)" font-size="4.6" font-style="italic" fill="#444" text-anchor="middle">75</text>
<text transform="translate(28.82,353.62) rotate(35)" font-size="4.6" font-style="italic" fill="#444" text-anchor="middle">90</text>
<text transform="translate(21.07,348.1) rotate(35)" font-size="4.6" font-style="italic" fill="#444" text-anchor="middle">100</text>
<text transform="translate(39,372.4) rotate(39)" font-size="5.2" font-weight="bold" font-style="italic" fill="#333" text-anchor="middle">MB dye degradation (%)</text>
<rect x="173" y="218.4" width="44.5" height="28.1" fill="#fff" stroke="#ddd" stroke-width="0.6"/>
<rect x="174.3" y="220.4" width="15.4" height="7" fill="#ff0000"/>
<text x="192.4" y="226" font-size="7.3" fill="#222">50 mg</text>
<rect x="174.3" y="229.4" width="15.4" height="7" fill="#00ee00"/>
<text x="192.4" y="235" font-size="7.3" fill="#222">80 mg</text>
<rect x="174.3" y="238.3" width="15.4" height="7" fill="#0040ff"/>
<text x="192.4" y="243.9" font-size="7.3" fill="#222">100 mg</text>
</svg>
</body></html>
